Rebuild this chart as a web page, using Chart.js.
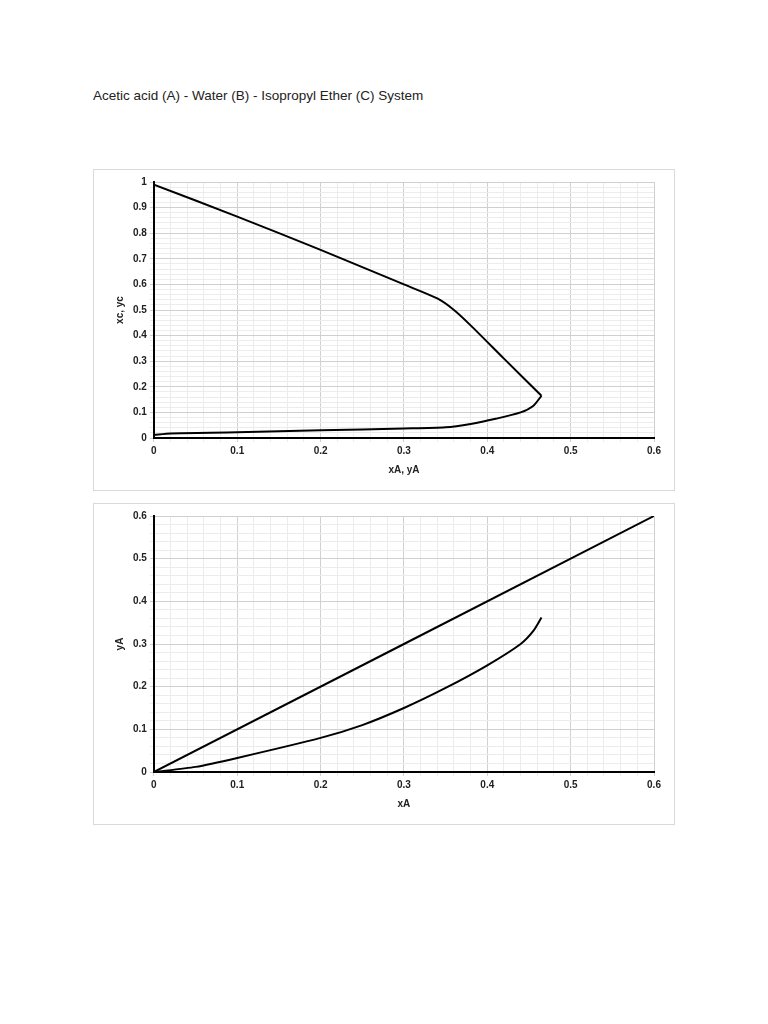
<!DOCTYPE html>
<html><head><meta charset="utf-8">
<script src="https://cdn.jsdelivr.net/npm/chart.js@4"></script>
<style>
body{margin:0;background:#fff;font-family:"Liberation Sans",Arial,sans-serif;}
#title{position:absolute;left:93px;top:88px;font-size:13.5px;color:#222;}
.box{position:absolute;left:93px;width:580px;height:320px;border:1px solid #d9d9d9;}
</style></head><body>
<div id="title">Acetic acid (A) - Water (B) - Isopropyl Ether (C) System</div>
<div class="box" style="top:169px"><canvas id="c1" width="580" height="320"></canvas></div>
<div class="box" style="top:503px"><canvas id="c2" width="580" height="320"></canvas></div>
<script>
// binodal curve, extract branch (xA, xC)
const upperXA = [0, 0.1, 0.2, 0.3, 0.34, 0.36, 0.38, 0.42, 0.465];
const upperXC = [0.99, 0.865, 0.735, 0.6, 0.545, 0.5, 0.44, 0.31, 0.165];
// raffinate branch
const lowerXA = [0.465, 0.455, 0.44, 0.41, 0.38, 0.35, 0.3, 0.2, 0.1, 0.02, 0];
const lowerXC = [0.165, 0.125, 0.1, 0.075, 0.055, 0.042, 0.037, 0.03, 0.022, 0.018, 0.012];
// equilibrium curve
const eqXA = [0, 0.05, 0.1, 0.2, 0.25, 0.3, 0.35, 0.4, 0.44, 0.455, 0.465];
const eqYA = [0, 0.012, 0.033, 0.08, 0.11, 0.15, 0.197, 0.25, 0.3, 0.33, 0.362];
const diagX = [0, 0.6];

const tickFont = {family: '"Liberation Sans", Arial', size: 10, weight: 'bold'};
const titleFont = {family: '"Liberation Sans", Arial', size: 10, weight: 'bold'};

function axis(max, title) {
    return {
        type: 'linear', min: 0, max: max,
        border: {color: '#000', width: 2},
        title: {display: true, text: title, font: titleFont, color: '#222'},
        grid: {
            color: ctx => Math.abs(ctx.tick.value * 10 - Math.round(ctx.tick.value * 10)) < 1e-6 ? '#d0d0d0' : '#ececec',
            lineWidth: 1, tickLength: 4
        },
        ticks: {
            stepSize: 0.02, autoSkip: false, maxRotation: 0, color: '#222', font: tickFont,
            callback: v => Math.abs(v * 10 - Math.round(v * 10)) < 1e-6 ? String(Math.round(v * 10) / 10) : ''
        }
    };
}

function pts(xs, ys) { return xs.map((x, i) => ({x: x, y: ys[i]})); }

function makeChart(id, datasets, yMax, xTitle, yTitle) {
    new Chart(document.getElementById(id), {
        type: 'scatter',
        data: {datasets: datasets.map(d => ({
            data: d, showLine: true, borderColor: '#000', borderWidth: 2,
            pointRadius: 0, tension: 0.25, fill: false
        }))},
        options: {
            responsive: false, animation: false,
            layout: {padding: {left: 16, right: 20, top: 12, bottom: 10}},
            plugins: {legend: {display: false}, tooltip: {enabled: false}},
            scales: {x: axis(0.6, xTitle), y: axis(yMax, yTitle)}
        }
    });
}

makeChart('c1', [pts(upperXA, upperXC), pts(lowerXA, lowerXC)], 1, 'xA, yA', 'xc, yc');
makeChart('c2', [pts(diagX, diagX), pts(eqXA, eqYA)], 0.6, 'xA', 'yA');
</script>
</body></html>
